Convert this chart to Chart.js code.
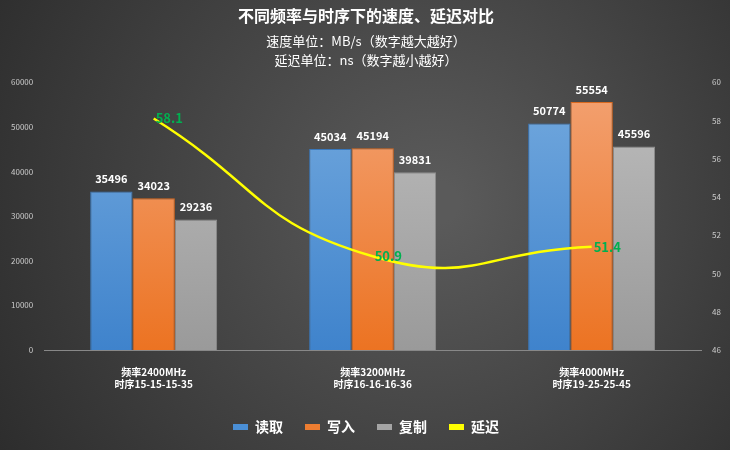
<!DOCTYPE html>
<html><head><meta charset="utf-8">
<script src="https://cdn.jsdelivr.net/npm/chart.js@4"></script>
<style>html,body{margin:0;padding:0;background:#333}#w{width:730px;height:450px}</style>
</head><body><div id="w"><canvas id="c"></canvas></div>
<script>
const categories = [["频率2400MHz","时序15-15-15-35"],["频率3200MHz","时序16-16-16-36"],["频率4000MHz","时序19-25-25-45"]];
const readVals = [35496, 45034, 50774];
const writeVals = [34023, 45194, 55554];
const copyVals = [29236, 39831, 45596];
const latencyVals = [58.1, 50.9, 51.4];
const FONT = "'Noto Sans CJK SC','Noto Sans',sans-serif";

function grad(ctx, chartArea, top, bot){
  if(!chartArea) return bot;
  const g = ctx.createLinearGradient(0, chartArea.top, 0, chartArea.bottom);
  g.addColorStop(0, top); g.addColorStop(1, bot); return g;
}
const bg = {id:'bg', beforeDraw(ch){
  const c = ch.ctx, w = ch.width, h = ch.height;
  const g = c.createRadialGradient(w*0.6, h*0.45, 20, w*0.55, h*0.45, w*0.75);
  g.addColorStop(0, '#5a5a5a'); g.addColorStop(1, '#262626');
  c.save(); c.fillStyle = g; c.fillRect(0,0,w,h); c.restore();
}};
const labels = {id:'labels', afterDatasetsDraw(ch){
  const c = ch.ctx; c.save();
  ch.data.datasets.forEach((ds,i)=>{
    const meta = ch.getDatasetMeta(i);
    meta.data.forEach((el,j)=>{
      if(ds.type==='line'){
        c.font = "bold 13px "+FONT; c.fillStyle = '#00b050'; c.textAlign='left'; c.textBaseline='middle';
        c.fillText(ds.data[j].toFixed(1), el.x+2, el.y);
      } else {
        c.font = "bold 11px "+FONT; c.fillStyle = '#fff'; c.textAlign='center'; c.textBaseline='bottom';
        c.fillText(ds.data[j], el.x, el.y-7);
      }
    });
  });
  c.restore();
}};
new Chart(document.getElementById('c'), {
  data: {
    labels: categories,
    datasets: [
      {type:'line', label:'延迟', data: latencyVals, yAxisID:'y1', borderColor:'#ffff00', backgroundColor:'#ffff00', borderWidth:2.5, tension:0.5, pointRadius:0, order:0},
      {type:'bar', label:'读取', data: readVals, yAxisID:'y', backgroundColor: c=>grad(c.chart.ctx,c.chart.chartArea,'#73a9de','#3f83cc'), borderColor:'#3a78bb', borderWidth:1, order:1},
      {type:'bar', label:'写入', data: writeVals, yAxisID:'y', backgroundColor: c=>grad(c.chart.ctx,c.chart.chartArea,'#f3a273','#ec7322'), borderColor:'#d9691f', borderWidth:1, order:1},
      {type:'bar', label:'复制', data: copyVals, yAxisID:'y', backgroundColor: c=>grad(c.chart.ctx,c.chart.chartArea,'#bdbdbd','#9a9a9a'), borderColor:'#8e8e8e', borderWidth:1, order:1}
    ]
  },
  options: {
    responsive:true, maintainAspectRatio:false, animation:false,
    layout:{padding:{left:8,right:6,top:2,bottom:6}},
    datasets:{bar:{categoryPercentage:0.58, barPercentage:1}},
    plugins:{
      title:{display:true, text:['不同频率与时序下的速度、延迟对比'], color:'#fff', font:{family:FONT,size:16,weight:'bold'}, padding:{top:4,bottom:2}},
      subtitle:{display:true, text:['速度单位：MB/s（数字越大越好）','延迟单位：ns（数字越小越好）'], color:'#fff', font:{family:FONT,size:13,lineHeight:1.5}, padding:{top:4,bottom:12}},
      legend:{position:'bottom', labels:{color:'#fff', font:{family:FONT,size:14,weight:'bold'}, boxWidth:15, boxHeight:6, padding:22,
        generateLabels(ch){ const order=[1,2,3,0]; return order.map(i=>{const ds=ch.data.datasets[i]; const col={1:'#4a8fd6',2:'#ed7d31',3:'#a5a5a5',0:'#ffff00'}[i];
          return {text:ds.label, fillStyle:col, strokeStyle:col, lineWidth:0, fontColor:'#fff', datasetIndex:i};});}}},
      tooltip:{enabled:false}
    },
    scales:{
      x:{ticks:{color:'#fff', padding:8, font:{family:FONT,size:10,weight:'bold'}}, grid:{display:false}, border:{color:'#888'}},
      y:{position:'left', min:0, max:60000, ticks:{stepSize:10000, color:'#ccc', font:{family:FONT,size:8}, callback:v=>String(v)}, grid:{display:false}, border:{display:false}},
      y1:{position:'right', min:46, max:60, ticks:{stepSize:2, color:'#ccc', font:{family:FONT,size:8}}, grid:{display:false}, border:{display:false}}
    }
  },
  plugins:[bg, labels]
});
</script></body></html>
